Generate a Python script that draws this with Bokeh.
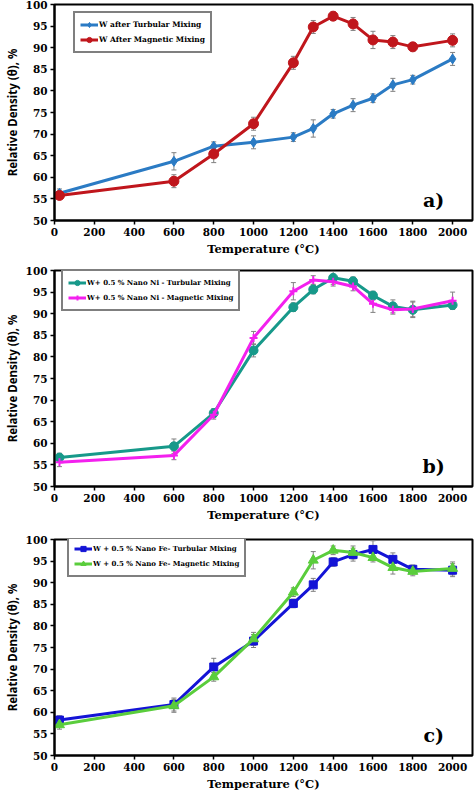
from bokeh.plotting import figure
from bokeh.layouts import column
from bokeh.models import (ColumnDataSource, Whisker, TeeHead, Legend, LegendItem,
                          Label, FixedTicker, Range1d)
from bokeh.embed import file_html
from bokeh.resources import INLINE

# Sintering temperature (°C)
temperature = [25, 600, 800, 1000, 1200, 1300, 1400, 1500, 1600, 1700, 1800, 2000]

# a) pure W
w_turbular = [56.3, 63.7, 67.2, 68.1, 69.3, 71.3, 74.7, 76.7, 78.3, 81.4, 82.6, 87.4]
w_turbular_err = [1.0, 2.0, 1.0, 1.5, 1.0, 2.0, 1.0, 1.5, 1.0, 1.5, 1.0, 1.5]
w_magnetic = [55.8, 59.1, 65.4, 72.4, 86.5, 94.8, 97.3, 95.5, 91.8, 91.3, 90.2, 91.7]
w_magnetic_err = [0.8, 1.5, 2.0, 1.5, 1.5, 1.5, 1.0, 1.5, 2.0, 1.5, 1.0, 1.5]

# b) W + 0.5 % nano Ni
ni_turbular = [56.7, 59.3, 67.0, 81.5, 91.5, 95.6, 98.3, 97.5, 94.2, 91.7, 90.9, 92.0]
ni_turbular_err = [1.0, 1.7, 1.0, 1.5, 1.0, 1.0, 1.5, 1.0, 1.0, 1.5, 1.8, 1.0]
ni_magnetic = [55.6, 57.2, 66.6, 84.4, 95.2, 97.8, 97.4, 96.3, 92.3, 90.9, 91.1, 93.0]
ni_magnetic_err = [1.0, 1.0, 1.0, 1.5, 2.0, 1.0, 1.0, 1.0, 2.0, 1.0, 1.8, 2.0]

# c) W + 0.5 % nano Fe
fe_turbular = [58.2, 61.8, 70.5, 76.5, 85.2, 89.5, 94.8, 96.5, 97.7, 95.4, 93.1, 92.9]
fe_turbular_err = [1.0, 1.5, 2.0, 1.5, 1.0, 1.5, 1.0, 1.5, 2.0, 1.5, 1.0, 1.5]
fe_magnetic = [57.1, 61.5, 68.2, 77.0, 87.8, 95.2, 97.5, 97.0, 95.8, 93.5, 92.6, 93.3]
fe_magnetic_err = [1.0, 1.5, 1.0, 1.5, 1.0, 2.0, 1.0, 1.5, 1.0, 1.5, 1.0, 1.5]

x_ticks = [0, 200, 400, 600, 800, 1000, 1200, 1400, 1600, 1800, 2000]
y_ticks = [50, 55, 60, 65, 70, 75, 80, 85, 90, 95, 100]

SERIF = "DejaVu Serif"
ERR_COLOR = "#808080"


def panel(series, tag, legend_xy, height, top, bottom, left, label_font_size):
    p = figure(width=474, height=height, output_backend="svg", toolbar_location=None,
               x_range=Range1d(0, 2100), y_range=Range1d(50, 100),
               min_border_left=left, min_border_right=2,
               min_border_top=top, min_border_bottom=bottom)
    p.xgrid.visible = False
    p.ygrid.visible = False
    p.outline_line_color = "black"
    p.outline_line_width = 2
    p.background_fill_color = "white"
    p.border_fill_color = "white"

    for ax in (p.xaxis, p.yaxis):
        ax.axis_line_color = "black"
        ax.axis_line_width = 2
        ax.major_tick_line_color = "black"
        ax.major_tick_line_width = 1.5
        ax.major_tick_out = 4
        ax.major_tick_in = 0
        ax.minor_tick_line_color = None
        ax.major_label_text_font = SERIF
        ax.major_label_text_font_style = "bold"
        ax.major_label_text_font_size = "10.5px"
        ax.major_label_text_color = "black"
        ax.major_label_standoff = 3
        ax.axis_label_standoff = 3
        ax.axis_label_text_color = "black"
        ax.axis_label_text_font_style = "bold"

    p.xaxis.ticker = FixedTicker(ticks=x_ticks)
    p.yaxis.ticker = FixedTicker(ticks=y_ticks)
    p.xaxis.axis_label = "Temperature (°C)"
    p.xaxis.axis_label_text_font = SERIF
    p.xaxis.axis_label_text_font_size = "11.5px"
    p.yaxis.axis_label = "Relative Density (θ), %"
    p.yaxis.axis_label_text_font = "Noto Sans"
    p.yaxis.axis_label_text_font_size = "11.5px"

    items = []
    for name, values, errs, color, marker, msize in series:
        src = ColumnDataSource(dict(
            x=temperature, y=values,
            upper=[v + e for v, e in zip(values, errs)],
            lower=[v - e for v, e in zip(values, errs)]))
        ln = p.line("x", "y", source=src, line_color=color, line_width=3)
        mk = p.scatter("x", "y", source=src, marker=marker, size=msize,
                       fill_color=color, line_color=color,
                       line_width=2 if marker in ("cross", "asterisk") else 1)
        p.add_layout(Whisker(base="x", upper="upper", lower="lower", source=src,
                             line_color=ERR_COLOR, line_width=1,
                             upper_head=TeeHead(size=5, line_color=ERR_COLOR, line_width=1),
                             lower_head=TeeHead(size=5, line_color=ERR_COLOR, line_width=1)))
        items.append(LegendItem(label=name, renderers=[ln, mk]))

    legend = Legend(items=items, location=legend_xy,
                    border_line_color="black", border_line_width=2,
                    background_fill_color="white", background_fill_alpha=1,
                    label_text_font=SERIF, label_text_font_style="bold",
                    label_text_font_size=label_font_size, label_text_color="black",
                    glyph_width=18, glyph_height=13, label_height=13,
                    label_standoff=1, spacing=2, padding=5, margin=0)
    p.add_layout(legend, "center")

    p.add_layout(Label(x=1905, y=54.8, text=tag, text_font=SERIF,
                       text_font_style="bold", text_font_size="19px",
                       text_align="center", text_baseline="middle",
                       text_color="black"))
    return p


pa = panel([
    ("W after Turbular Mixing", w_turbular, w_turbular_err, "#2b7bc4", "diamond", 10),
    ("W After Magnetic Mixing", w_magnetic, w_magnetic_err, "#c0161c", "circle", 10),
], "a)", (19, 167), 262, 4, 42, 50, "7.5px")

pb = panel([
    ("W+ 0.5 % Nano Ni - Turbular Mixing", ni_turbular, ni_turbular_err, "#17998a", "circle", 9),
    ("W+ 0.5 % Nano Ni - Magnetic Mixing", ni_magnetic, ni_magnetic_err, "#f320ee", "cross", 8),
], "b)", (7, 175), 263, 8, 39, 50, "7px")

pc = panel([
    ("W + 0.5 % Nano Fe- Turbular Mixing", fe_turbular, fe_turbular_err, "#1414d6", "square", 8),
    ("W + 0.5 % Nano Fe- Magnetic Mixing", fe_magnetic, fe_magnetic_err, "#5acd3c", "triangle", 10),
], "c)", (13, 178), 268, 14, 35, 54, "7px")

layout = column(pa, pb, pc, spacing=0)
open("out.html", "w").write(file_html(layout, INLINE))
